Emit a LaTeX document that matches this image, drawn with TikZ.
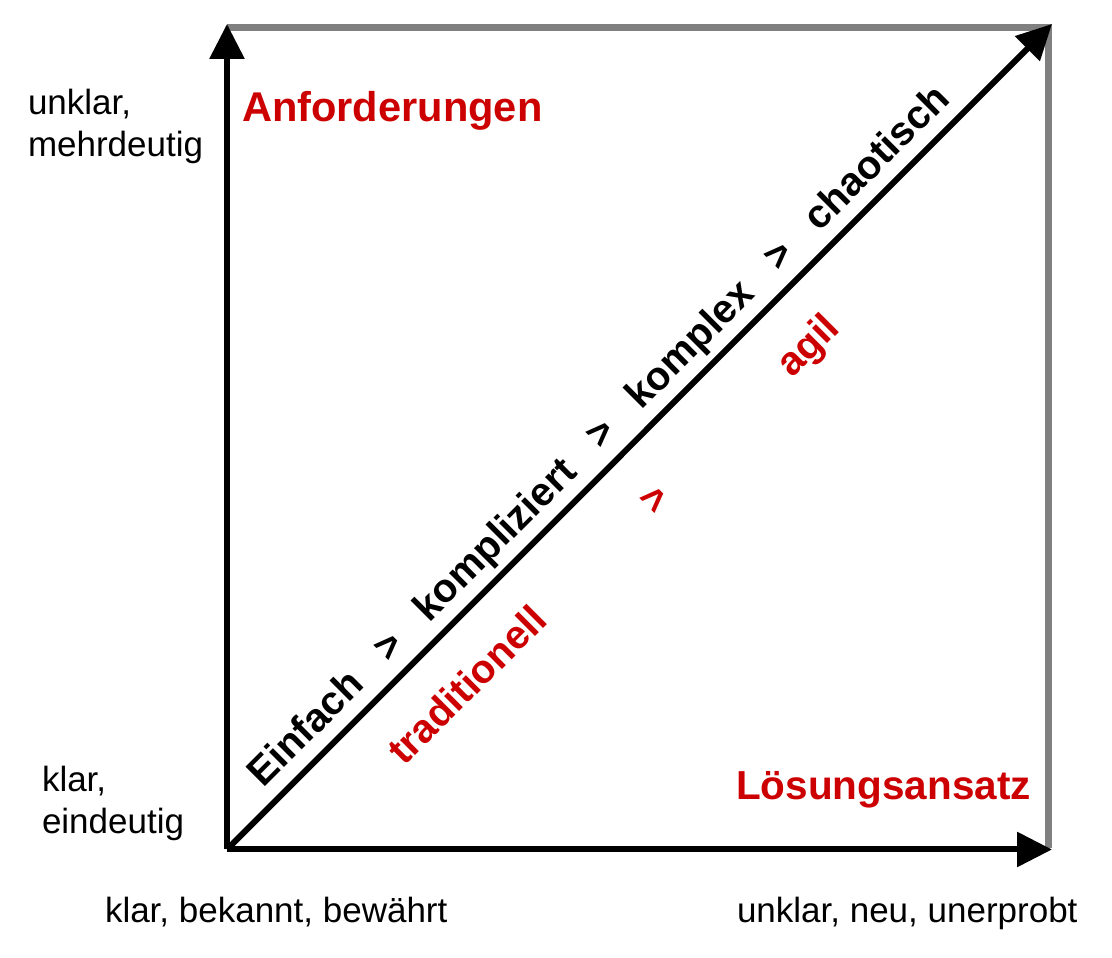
\documentclass[tikz,border=0pt]{standalone}
\usepackage{fontspec}
\setmainfont{Liberation Sans}
\usetikzlibrary{arrows.meta}
\definecolor{lblred}{RGB}{204,0,0}
\definecolor{frame}{RGB}{128,128,128}
\tikzset{
  axis/.style={draw=black, line width=6pt, -{Triangle[length=35pt,width=34pt]}},
  frameline/.style={draw=frame, line width=6.5pt},
  plain/.style={inner sep=0pt, outer sep=0pt, font=\fontsize{35}{42}\selectfont, text=black},
  redlbl/.style={inner sep=0pt, outer sep=0pt, text=lblred, font=\bfseries\fontsize{41.6}{48}\selectfont},
  diagtxt/.style={inner sep=0pt, outer sep=0pt, transform shape, font=\bfseries\fontsize{40}{48}\selectfont},
}
\begin{document}
\begin{tikzpicture}[x=1pt,y=1pt]
\useasboundingbox (0,0) rectangle (1112,958);
% key points
\coordinate (O) at (227,108.5);
\coordinate (XT) at (1052,108.5);
\coordinate (YT) at (227,934);
\coordinate (DT) at (1052,934);
\coordinate (FTL) at (227,930.6);
\coordinate (FTR) at (1048.3,930.6);
\coordinate (FBR) at (1048.3,110);
% gray frame
\draw[frameline] (FTL) -- (FTR) -- (FBR);
% axes
\draw[axis] (O) -- (XT);
\draw[axis] (O) -- (YT);
\draw[axis] (O) -- (DT);
% axis labels
\node[plain, anchor=base west] (ytop) at (28,843) {\begin{tabular}[t]{@{}l@{}}unklar,\\mehrdeutig\end{tabular}};
\node[plain, anchor=base west] (ybot) at (42,166) {\begin{tabular}[t]{@{}l@{}}klar,\\eindeutig\end{tabular}};
\node[plain, anchor=base west] (xleft) at (105,35) {klar, bekannt, bewährt};
\node[plain, anchor=base west] (xright) at (737,35) {unklar, neu, unerprobt};
% red corner labels
\node[redlbl, anchor=base west] (anf) at (242,836) {Anforderungen};
\node[redlbl, anchor=base west, font=\bfseries\fontsize{40.5}{48}\selectfont] (loes) at (736,158) {Lösungsansatz};
% diagonal texts
\begin{scope}[shift={(O)}, rotate=45]
  \node[diagtxt, anchor=base west, text=black] (scale) at (69,17)
    {Einfach\hspace{33pt}>\hspace{33pt}kompliziert\hspace{33pt}>\hspace{33pt}komplex\hspace{33pt}>\hspace{33pt}chaotisch};
  \node[diagtxt, anchor=base, text=lblred] (trad) at (286,-67) {traditionell};
  \node[diagtxt, anchor=base, text=lblred] (gt) at (550,-67) {>};
  \node[diagtxt, anchor=base, text=lblred] (agil) at (767,-67) {agil};
\end{scope}
\end{tikzpicture}
\end{document}
